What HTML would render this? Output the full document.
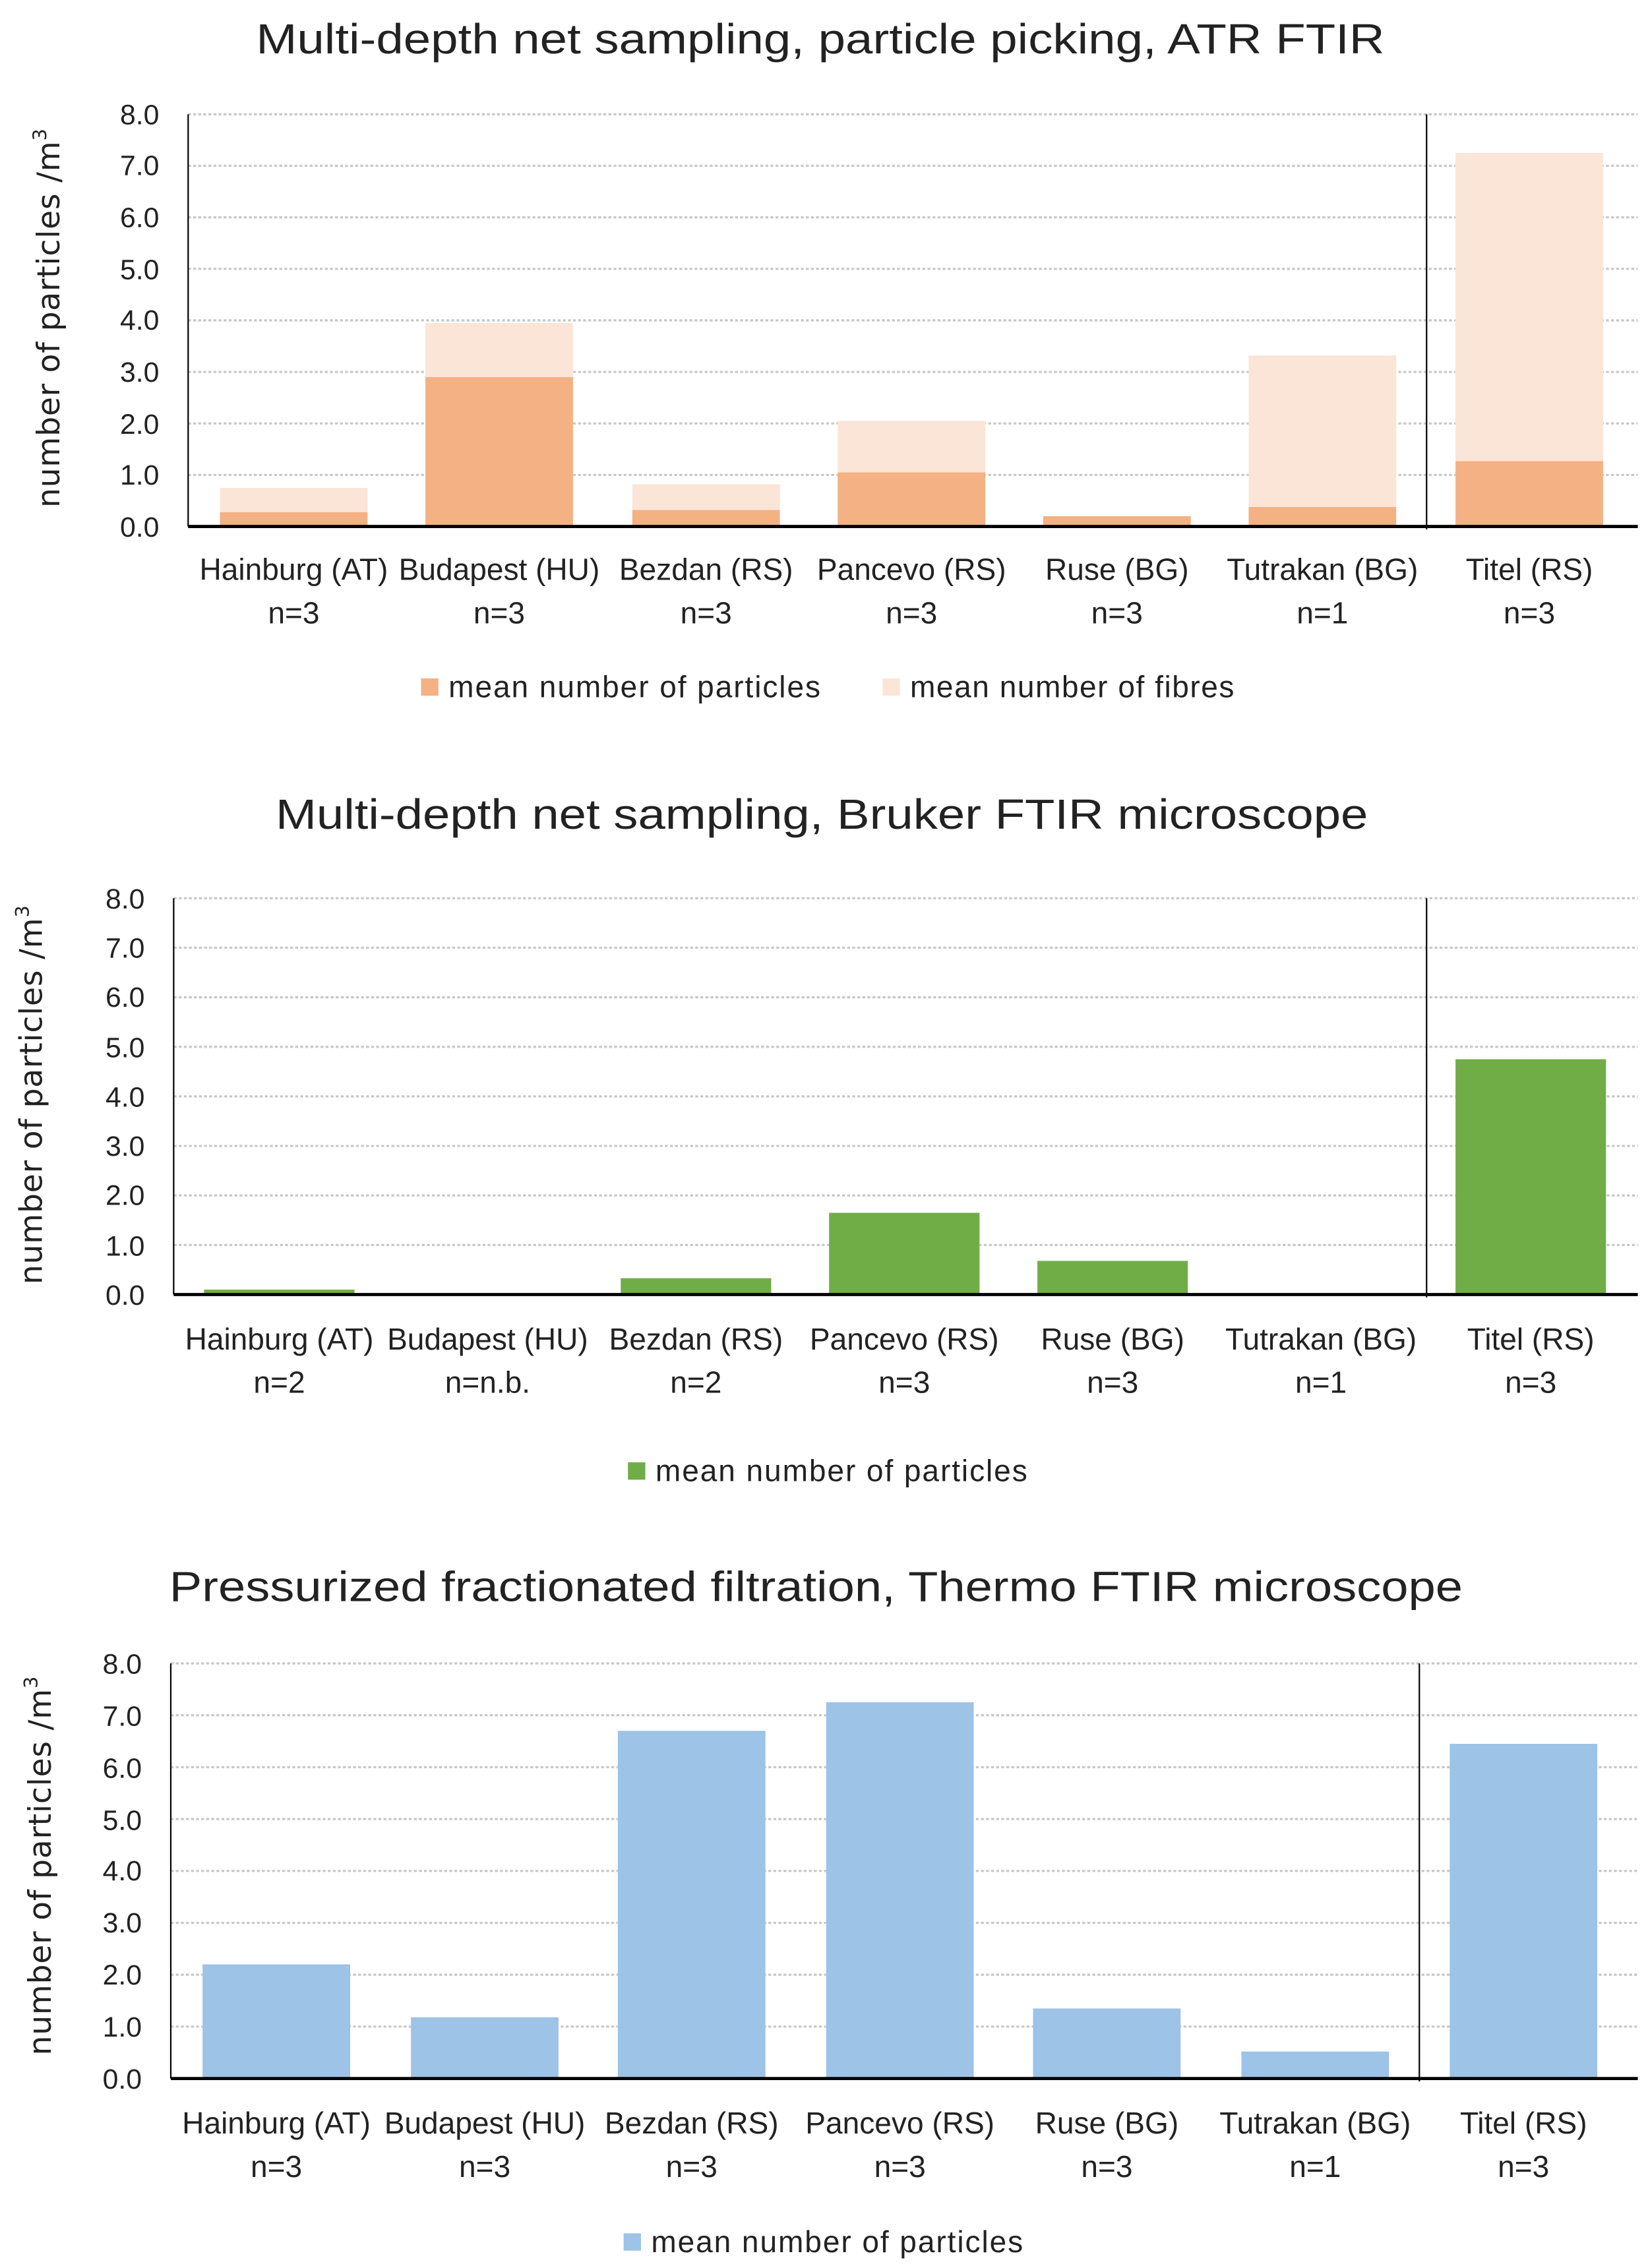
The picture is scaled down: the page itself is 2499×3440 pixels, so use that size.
<!DOCTYPE html>
<html><head><meta charset="utf-8"><style>
html,body{margin:0;padding:0;background:#fff}
svg{display:block}
text{font-family:"Liberation Sans",sans-serif;fill:#222}
.t{font-size:29px}
.k{font-size:19.5px;text-anchor:end}
.c{font-size:21px;text-anchor:middle}
.l{font-size:21px}
.y{font-size:21.5px;font-family:"DejaVu Sans",sans-serif;text-anchor:middle}
</style></head><body>
<svg id="s" width="2499" height="3440" viewBox="0 0 1139 1568" xmlns="http://www.w3.org/2000/svg">
<g id="g"></g>
<!-- Chart 1 -->
<text class="t" x="567" y="37" text-anchor="middle" textLength="780" lengthAdjust="spacingAndGlyphs">Multi-depth net sampling, particle picking, ATR FTIR</text>
<text class="k" x="110" y="86">8.0</text><text class="k" x="110" y="121">7.0</text><text class="k" x="110" y="157">6.0</text><text class="k" x="110" y="193">5.0</text><text class="k" x="110" y="228">4.0</text><text class="k" x="110" y="264">3.0</text><text class="k" x="110" y="300">2.0</text><text class="k" x="110" y="335">1.0</text><text class="k" x="110" y="371">0.0</text>
<text class="y" transform="translate(41,220) rotate(-90)" textLength="262">number of particles /m<tspan font-size="13" dy="-9">3</tspan></text>
<text class="c" x="203" y="401">Hainburg (AT)</text><text class="c" x="345" y="401">Budapest (HU)</text><text class="c" x="488" y="401">Bezdan (RS)</text><text class="c" x="630" y="401">Pancevo (RS)</text><text class="c" x="772" y="401">Ruse (BG)</text><text class="c" x="914" y="401">Tutrakan (BG)</text><text class="c" x="1057" y="401">Titel (RS)</text>
<text class="c" x="203" y="431">n=3</text><text class="c" x="345" y="431">n=3</text><text class="c" x="488" y="431">n=3</text><text class="c" x="630" y="431">n=3</text><text class="c" x="772" y="431">n=3</text><text class="c" x="914" y="431">n=1</text><text class="c" x="1057" y="431">n=3</text>
<rect x="291" y="469" width="12" height="12" fill="#F4B183"/><text class="l" x="310" y="482" textLength="257">mean number of  particles</text>
<rect x="610" y="469" width="12" height="12" fill="#FBE5D6"/><text class="l" x="629" y="482" textLength="224">mean number of fibres</text>

<!-- Chart 2 -->
<text class="t" x="568" y="573" text-anchor="middle" textLength="755" lengthAdjust="spacingAndGlyphs">Multi-depth net sampling, Bruker FTIR microscope</text>
<text class="k" x="100" y="628">8.0</text><text class="k" x="100" y="662">7.0</text><text class="k" x="100" y="696">6.0</text><text class="k" x="100" y="731">5.0</text><text class="k" x="100" y="765">4.0</text><text class="k" x="100" y="799">3.0</text><text class="k" x="100" y="833">2.0</text><text class="k" x="100" y="868">1.0</text><text class="k" x="100" y="902">0.0</text>
<text class="y" transform="translate(29,757) rotate(-90)" textLength="262">number of particles /m<tspan font-size="13" dy="-9">3</tspan></text>
<text class="c" x="193" y="933">Hainburg (AT)</text><text class="c" x="337" y="933">Budapest (HU)</text><text class="c" x="481" y="933">Bezdan (RS)</text><text class="c" x="625" y="933">Pancevo (RS)</text><text class="c" x="769" y="933">Ruse (BG)</text><text class="c" x="913" y="933">Tutrakan (BG)</text><text class="c" x="1058" y="933">Titel (RS)</text>
<text class="c" x="193" y="963">n=2</text><text class="c" x="337" y="963">n=n.b.</text><text class="c" x="481" y="963">n=2</text><text class="c" x="625" y="963">n=3</text><text class="c" x="769" y="963">n=3</text><text class="c" x="913" y="963">n=1</text><text class="c" x="1058" y="963">n=3</text>
<rect x="434" y="1011" width="12" height="12" fill="#70AD47"/><text class="l" x="453" y="1024" textLength="257">mean number of  particles</text>

<!-- Chart 3 -->
<text class="t" x="564" y="1107" text-anchor="middle" textLength="894" lengthAdjust="spacingAndGlyphs">Pressurized  fractionated filtration, Thermo FTIR microscope</text>
<text class="k" x="98" y="1157">8.0</text><text class="k" x="98" y="1193">7.0</text><text class="k" x="98" y="1229">6.0</text><text class="k" x="98" y="1265">5.0</text><text class="k" x="98" y="1300">4.0</text><text class="k" x="98" y="1336">3.0</text><text class="k" x="98" y="1372">2.0</text><text class="k" x="98" y="1408">1.0</text><text class="k" x="98" y="1444">0.0</text>
<text class="y" transform="translate(35,1290) rotate(-90)" textLength="262">number of particles /m<tspan font-size="13" dy="-9">3</tspan></text>
<text class="c" x="191" y="1475">Hainburg (AT)</text><text class="c" x="335" y="1475">Budapest (HU)</text><text class="c" x="478" y="1475">Bezdan (RS)</text><text class="c" x="622" y="1475">Pancevo (RS)</text><text class="c" x="765" y="1475">Ruse (BG)</text><text class="c" x="909" y="1475">Tutrakan (BG)</text><text class="c" x="1053" y="1475">Titel (RS)</text>
<text class="c" x="191" y="1505">n=3</text><text class="c" x="335" y="1505">n=3</text><text class="c" x="478" y="1505">n=3</text><text class="c" x="622" y="1505">n=3</text><text class="c" x="765" y="1505">n=3</text><text class="c" x="909" y="1505">n=1</text><text class="c" x="1053" y="1505">n=3</text>
<rect x="431" y="1544" width="12" height="12" fill="#9DC3E6"/><text class="l" x="450" y="1557" textLength="257">mean number of  particles</text>
</svg>
<script>
var g=document.getElementById('g'),NS='http://www.w3.org/2000/svg';
function el(n,a){var e=document.createElementNS(NS,n);for(var k in a)e.setAttribute(k,a[k]);g.appendChild(e);return e;}
var charts=[
 {ax:130,top:79,bot:364,sep:986,cx:[203,345,488,630,772,914,1057],bw:102,series:[[0.28,2.9,0.32,1.05,0.2,0.38,1.27],[0.47,1.05,0.5,1.0,0,2.94,5.98]],col:['#F4B183','#FBE5D6']},
 {ax:120,top:621,bot:895,sep:986,cx:[193,337,481,625,769,913,1058],bw:104,series:[[0.1,0,0.33,1.65,0.68,0,4.75]],col:['#70AD47']},
 {ax:118,top:1150,bot:1437,sep:981,cx:[191,335,478,622,765,909,1053],bw:102,series:[[2.2,1.18,6.7,7.25,1.35,0.52,6.45]],col:['#9DC3E6']}
];
charts.forEach(function(c){
 var s=(c.bot-c.top)/8;
 for(var i=1;i<=8;i++){var y=c.bot-i*s;el('line',{x1:c.ax,x2:1132,y1:y,y2:y,stroke:'#c8c8c8','stroke-width':1.5,'stroke-dasharray':'2 1.5'});}
 c.cx.forEach(function(x,j){var base=c.bot;c.series.forEach(function(ser,k){var h=ser[j]*s;if(h>0)el('rect',{x:x-c.bw/2,y:base-h,width:c.bw,height:h,fill:c.col[k]});base-=h;});});
 el('line',{x1:c.ax,x2:c.ax,y1:c.top,y2:c.bot,stroke:'#000','stroke-width':1});
 el('line',{x1:c.sep,x2:c.sep,y1:c.top,y2:c.bot+2,stroke:'#000','stroke-width':1});
 el('line',{x1:c.ax,x2:1132,y1:c.bot,y2:c.bot,stroke:'#000','stroke-width':2.2});
});
</script>
</body></html>
